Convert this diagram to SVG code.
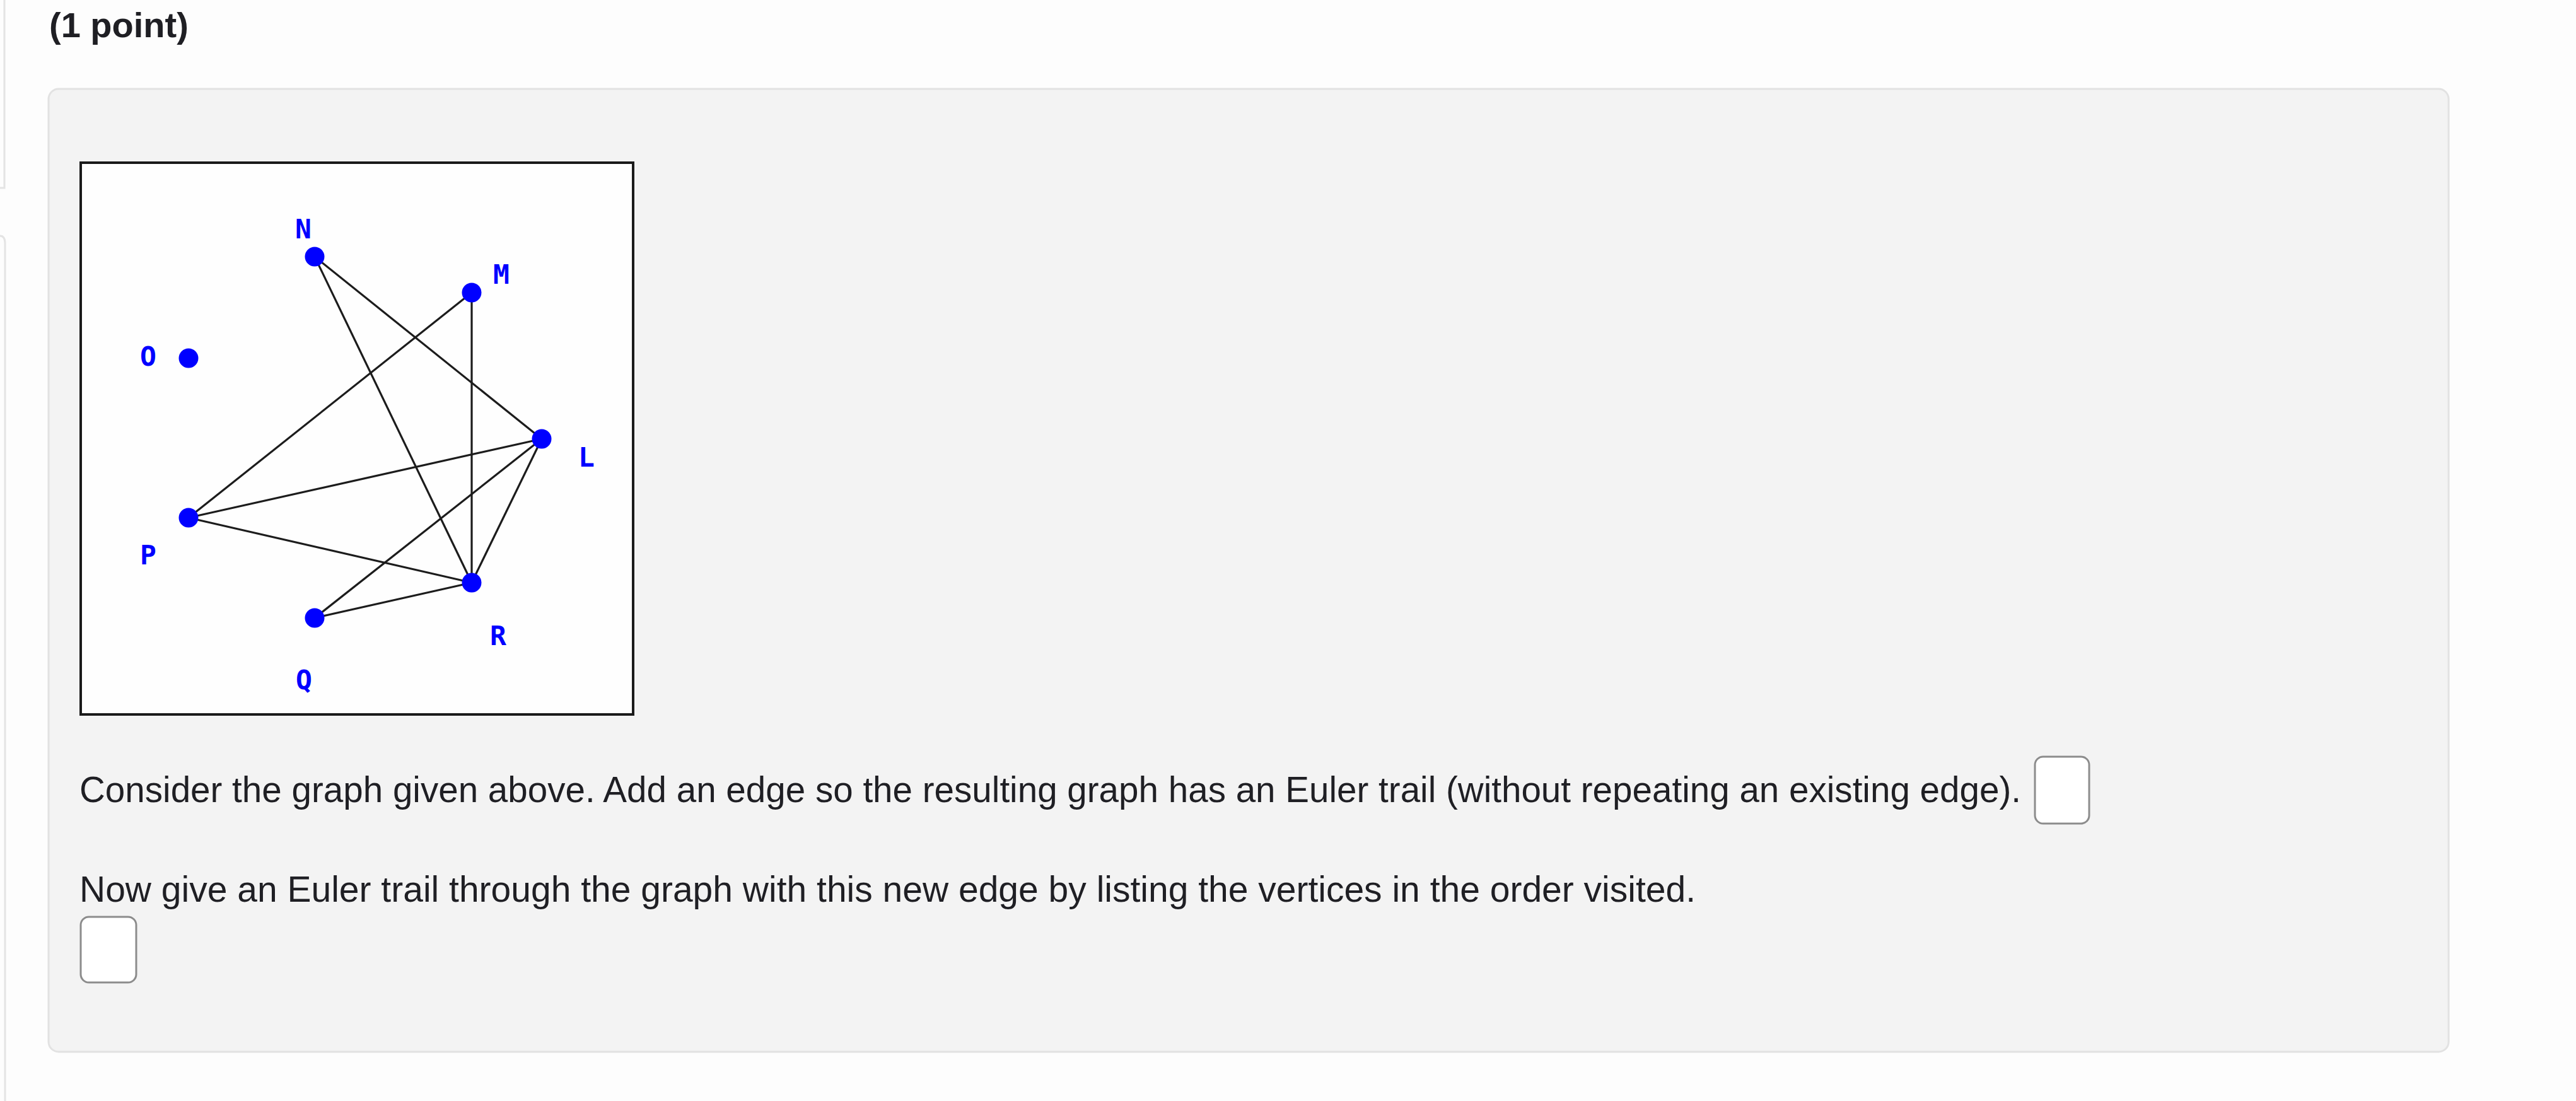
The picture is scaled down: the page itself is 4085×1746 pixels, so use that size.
<svg xmlns="http://www.w3.org/2000/svg" width="4085" height="1746" viewBox="0 0 4085 1746">
  <style>
    .title { font-family: "Liberation Sans", Arial, sans-serif; font-weight: bold; font-size: 56px; fill: #1f1f24; }
    .body { font-family: "Liberation Sans", Arial, sans-serif; font-size: 57px; fill: #1f1f24; }
    .lbl { font-family: "DejaVu Sans Mono", monospace; font-weight: bold; font-size: 43px; fill: #0000ff; text-anchor: middle; }
    .node { fill: #0000ff; }
    .edge { stroke: #1c1c1c; stroke-width: 3.2; fill: none; }
    .input { fill: #ffffff; stroke: #8c8c8c; stroke-width: 3; }
    .sep { stroke: #e4e4e4; stroke-width: 3; fill: none; }
  </style>
  <rect x="0" y="0" width="4085" height="1746" fill="#fdfdfd"/>
  <path class="sep" d="M7,0 V298 H0"/>
  <path class="sep" d="M0,374 Q8,374 8,386 V1746"/>
  <text class="title" x="78" y="59">(1 point)</text>
  <rect x="77" y="141" width="3806" height="1527" rx="16" ry="16" fill="#f3f3f3" stroke="#e2e2e2" stroke-width="3"/>
  <rect x="128" y="258" width="876" height="875" fill="#fefefe" stroke="#1a1a1a" stroke-width="4"/>
  <g id="connectors">
    <line class="edge" x1="499" y1="407" x2="748" y2="924"/>
    <line class="edge" x1="499" y1="407" x2="859" y2="696"/>
    <line class="edge" x1="748" y1="464" x2="299" y2="821"/>
    <line class="edge" x1="748" y1="464" x2="748" y2="924"/>
    <line class="edge" x1="859" y1="696" x2="299" y2="821"/>
    <line class="edge" x1="859" y1="696" x2="499" y2="980"/>
    <line class="edge" x1="859" y1="696" x2="748" y2="924"/>
    <line class="edge" x1="299" y1="821" x2="748" y2="924"/>
    <line class="edge" x1="499" y1="980" x2="748" y2="924"/>
  </g>
  <g id="node-N"><circle class="node" cx="499" cy="407" r="15.5"/><text class="lbl" x="481" y="378">N</text></g>
  <g id="node-M"><circle class="node" cx="748" cy="464" r="15.5"/><text class="lbl" x="795" y="450">M</text></g>
  <g id="node-O"><circle class="node" cx="299" cy="568" r="15.5"/><text class="lbl" x="235" y="580">O</text></g>
  <g id="node-L"><circle class="node" cx="859" cy="696" r="15.5"/><text class="lbl" x="930" y="740">L</text></g>
  <g id="node-P"><circle class="node" cx="299" cy="821" r="15.5"/><text class="lbl" x="235" y="895">P</text></g>
  <g id="node-R"><circle class="node" cx="748" cy="924" r="15.5"/><text class="lbl" x="790" y="1023">R</text></g>
  <g id="node-Q"><circle class="node" cx="499" cy="980" r="15.5"/><text class="lbl" x="482" y="1093">Q</text></g>
  <text class="body" x="126" y="1272" textLength="3079" lengthAdjust="spacingAndGlyphs">Consider the graph given above. Add an edge so the resulting graph has an Euler trail (without repeating an existing edge).</text>
  <rect class="input" x="3227" y="1200" width="86" height="106" rx="13" ry="13"/>
  <text class="body" x="126" y="1430" textLength="2563" lengthAdjust="spacingAndGlyphs">Now give an Euler trail through the graph with this new edge by listing the vertices in the order visited.</text>
  <rect class="input" x="128" y="1454" width="88" height="104" rx="13" ry="13"/>
</svg>
